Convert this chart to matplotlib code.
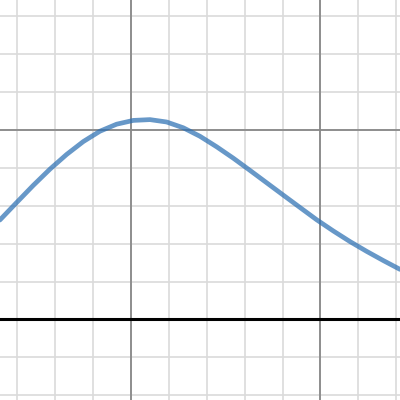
import numpy as np
import matplotlib
matplotlib.use("Agg")
import matplotlib.pyplot as plt

# curve samples (grid: minor = 1, major = 5)
x_vals = [1.54, 1.98, 2.42, 2.86, 3.30, 3.74, 4.18, 4.62, 5.06, 5.50, 5.94, 6.38, 6.82,
          7.26, 7.70, 8.14, 8.58, 9.02, 9.46, 9.90, 10.34, 10.78, 11.22, 11.66, 12.10]
y_vals = [2.625, 3.084, 3.538, 3.966, 4.354, 4.694, 4.968, 5.153, 5.253, 5.274, 5.211,
          5.058, 4.834, 4.557, 4.256, 3.934, 3.607, 3.280, 2.955, 2.631, 2.335, 2.055,
          1.797, 1.554, 1.322]

xmin, xmax = 1.543, 12.098
ymin, ymax = -2.124, 8.43

fig = plt.figure(figsize=(4, 4), dpi=100)
ax = fig.add_axes([0, 0, 1, 1])

# minor grid
for gx in range(2, 13):
    ax.axvline(gx, color='#dadada', lw=1.2, zorder=0)
for gy in range(-2, 9):
    ax.axhline(gy, color='#dadada', lw=1.2, zorder=0)
# major grid
for gx in [5, 10]:
    ax.axvline(gx, color='#888888', lw=1.3, zorder=1)
ax.axhline(5, color='#888888', lw=1.3, zorder=1)
# x axis
ax.axhline(0, color='black', lw=2.2, zorder=2)

ax.plot(x_vals, y_vals, color='#2d70b3', alpha=0.72, lw=3.4,
        solid_capstyle='round', solid_joinstyle='round', zorder=3)

ax.set_xlim(xmin, xmax)
ax.set_ylim(ymin, ymax)
ax.set_xticks([])
ax.set_yticks([])
for s in ax.spines.values():
    s.set_visible(False)

fig.savefig('out.png', dpi=100)
